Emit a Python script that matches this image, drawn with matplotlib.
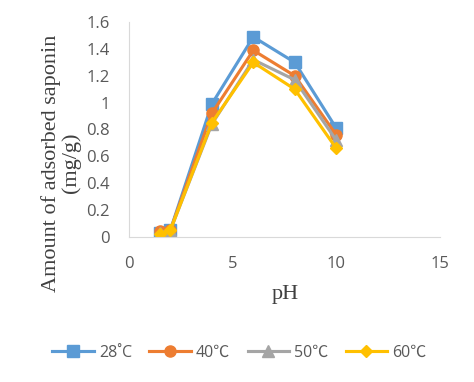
import matplotlib.pyplot as plt

# Data
ph = [1.5, 2, 4, 6, 8, 10]
t28 = [0.03, 0.05, 0.99, 1.49, 1.30, 0.81]
t40 = [0.04, 0.05, 0.92, 1.39, 1.20, 0.76]
t50 = [0.03, 0.05, 0.84, 1.32, 1.17, 0.72]
t60 = [0.02, 0.05, 0.85, 1.30, 1.10, 0.66]
labels = ['28˚C', '40℃', '50℃', '60℃']

fig = plt.figure(figsize=(4.74, 3.82), dpi=100)
ax = fig.add_axes([0.272, 0.380, 0.656, 0.562])

ax.plot(ph, t28, '-s', color='#5B9BD5', lw=2.25, ms=8, label=labels[0])
ax.plot(ph, t40, '-o', color='#ED7D31', lw=2.25, ms=8, label=labels[1])
ax.plot(ph, t50, '-^', color='#A5A5A5', lw=2.25, ms=8, label=labels[2])
ax.plot(ph, t60, '-D', color='#FFC000', lw=2.25, ms=6.5, label=labels[3])

ax.set_xlim(0, 15)
ax.set_ylim(0, 1.6)
ax.set_xticks([0, 5, 10, 15])
ax.set_yticks([0, 0.2, 0.4, 0.6, 0.8, 1.0, 1.2, 1.4, 1.6])
ax.set_yticklabels(['0', '0.2', '0.4', '0.6', '0.8', '1', '1.2', '1.4', '1.6'])
ax.tick_params(length=0, labelsize=12, colors='#595959')
ax.tick_params(axis='y', pad=14)
ax.tick_params(axis='x', pad=14)
for lab in ax.get_xticklabels() + ax.get_yticklabels():
    lab.set_family('Open Sans')

for s in ['top', 'right']:
    ax.spines[s].set_visible(False)
ax.spines['left'].set_color('#D9D9D9')
ax.spines['bottom'].set_color('#D9D9D9')

# axis titles placed where the reference has them
fig.text(285 / 474, 1 - 295 / 382, 'pH', family='Liberation Serif', fontsize=16,
         ha='center', va='center', color='#404040')
fig.text(61 / 474, 1 - 163 / 382, 'Amount of adsorbed saponin\n(mg/g)',
         family='Liberation Serif', fontsize=16, rotation=90, ha='center',
         va='center', multialignment='center', linespacing=1.0, color='#404040')

fig.legend(loc='center', bbox_to_anchor=(0.505, 0.076), ncol=4, frameon=False,
           prop={'family': ['Open Sans', 'Noto Sans CJK SC', 'DejaVu Sans'], 'size': 11.5},
           handlelength=2.6, columnspacing=1.1, handletextpad=0.3,
           labelcolor='#595959')

plt.savefig('out.png', dpi=100)
